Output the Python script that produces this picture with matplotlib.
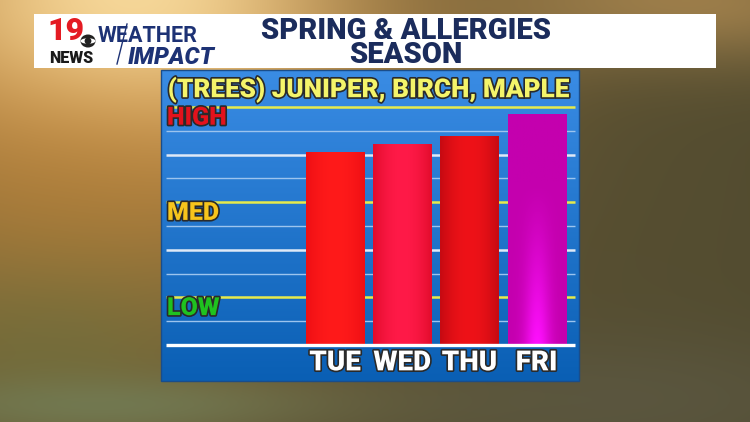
import numpy as np
import matplotlib
matplotlib.use("Agg")
import matplotlib.pyplot as plt
import matplotlib.patheffects as pe
from matplotlib.patches import Rectangle, Circle, Ellipse
from matplotlib.colors import to_rgb

# data
days = ["TUE", "WED", "THU", "FRI"]
pollen = [8.1, 8.45, 8.8, 9.7]
level_names = ["LOW", "MED", "HIGH"]
level_pos = [1.5, 5.5, 9.5]
chart_title = "(TREES) JUNIPER, BIRCH, MAPLE"
header = "SPRING & ALLERGIES\nSEASON"

W, H = 750, 422
fig = plt.figure(figsize=(7.5, 4.22), dpi=100)

# ---- background photo imitation (blurred sunset trees)
bg = fig.add_axes([0, 0, 1, 1])
bg.set_xlim(0, W)
bg.set_ylim(H, 0)
bg.axis("off")

yy, xx = np.mgrid[0:H, 0:W].astype(float)
img = np.zeros((H, W, 3))
img[:] = np.array([80, 74, 46]) / 255


def blob(cx, cy, sx, sy, col, amt):
    g = np.exp(-(((xx - cx) / sx) ** 2 + ((yy - cy) / sy) ** 2) / 2) * amt
    c = np.array(col) / 255
    for k in range(3):
        img[..., k] = img[..., k] * (1 - g) + c[k] * g


blob(110, 40, 240, 200, (215, 150, 70), 0.95)
blob(130, 0, 130, 80, (255, 230, 170), 0.85)
blob(60, 230, 120, 100, (175, 125, 55), 0.6)
blob(50, 350, 120, 70, (110, 110, 60), 0.7)
blob(680, 5, 140, 45, (200, 155, 90), 0.75)
blob(660, 230, 110, 150, (85, 78, 50), 0.6)
blob(620, 400, 200, 50, (95, 92, 72), 0.6)
blob(110, 405, 160, 22, (115, 128, 90), 0.7)
bg.imshow(np.clip(img, 0, 1), extent=[0, W, H, 0], aspect="auto", zorder=0)

# ---- white header banner
bg.add_patch(Rectangle((34, 14), 682, 54, facecolor="white", edgecolor="none", zorder=2))
bg.text(406, 43, header, ha="center", va="center", fontsize=21, fontweight="black",
        family="Roboto", color="#1b2c5c", linespacing=0.85, zorder=3)

# logo
bg.text(47, 40, "19", fontsize=23, fontweight="black", family="Roboto", color="#e41b23",
        ha="left", va="baseline", zorder=3)
bg.add_patch(Ellipse((88, 41), 15, 13, facecolor="#222222", zorder=3))
bg.add_patch(Ellipse((88, 41), 15, 5.5, facecolor="white", zorder=3))
bg.add_patch(Circle((88, 41), 3.4, facecolor="#222222", zorder=4))
bg.text(49, 63, "NEWS", fontsize=11.5, fontweight="black", family="Roboto", color="#1a1a1a",
        ha="left", va="baseline", zorder=3)
bg.text(98, 42, "WEATHER", fontsize=15.5, fontweight="bold", family="Roboto", color="#1d3275",
        ha="left", va="baseline", zorder=3)
bg.text(128, 64, "IMPACT", fontsize=17, fontweight="black", style="italic", family="Roboto",
        color="#1d3275", ha="left", va="baseline", zorder=3)
bg.plot([127, 117], [24, 64], color="#1d3275", lw=1, zorder=3)

# ---- blue panel
px0, px1, py0, py1 = 161, 579, 70, 381
top_c = np.array(to_rgb("#3a8ce4"))
bot_c = np.array(to_rgb("#0a5fb4"))
t = np.linspace(0, 1, 200)[:, None, None]
panel = top_c * (1 - t) + bot_c * t
panel = np.repeat(panel, 2, axis=1)
bg.imshow(panel, extent=[px0, px1, py1, py0], aspect="auto", zorder=2)
bg.add_patch(Rectangle((px0, py0), px1 - px0, py1 - py0, facecolor="none",
                       edgecolor="#1a4d8a", lw=1, zorder=3))

# ---- chart axes over the panel
unit = 23.8
base_px = 345
ax = fig.add_axes([px0 / W, 1 - py1 / H, (px1 - px0) / W, (py1 - py0) / H])
ax.patch.set_alpha(0)
ax.set_ylim(-(py1 - base_px) / unit, (base_px - py0) / unit)
x = np.arange(len(days))
step = 67.2
ax.set_xlim((px0 - 335) / step, (px1 - 335) / step)
ax.axis("off")

gx0, gx1 = (166 - 335) / step, (575 - 335) / step
for lv in range(1, 11):
    if lv in (2, 6, 10):
        ax.hlines(lv, gx0, gx1, color="#e6ea4c", lw=1.8, zorder=1)
    elif lv in (4, 8):
        ax.hlines(lv, gx0, gx1, color="#dfe9f7", lw=1.8, zorder=1)
    else:
        ax.hlines(lv, gx0, gx1, color="#9cc4ee", lw=1.0, zorder=1)
ax.hlines(0, gx0, gx1, color="white", lw=2.4, zorder=4)

# bars with gradient fills
bar_w = 0.865
bars = ax.bar(x, pollen, width=bar_w, color="#ff1414", zorder=2)
grads = [
    ("#ee0f14", "#ff1a1a"),
    ("#e20c2c", "#ff1a48"),
    ("#c60a12", "#ee1218"),
]
for i, b in enumerate(bars):
    h = b.get_height()
    xs = np.linspace(-1, 1, 60)
    if i < 3:
        edge, mid = np.array(to_rgb(grads[i][0])), np.array(to_rgb(grads[i][1]))
        wgt = (1 - xs ** 2)[None, :, None]
        arr = edge * (1 - wgt) + mid * wgt
        arr = np.repeat(arr, 2, axis=0)
    else:
        ys = np.linspace(0, 1, 120)[:, None]
        top = np.array(to_rgb("#c400ae"))
        glow = np.array(to_rgb("#ff10ff"))
        g = np.exp(-(xs[None, :] / 0.45) ** 2) * np.clip((ys - 0.3) / 0.7, 0, 1) ** 1.2
        arr = top * (1 - g[..., None]) + glow * g[..., None]
    im = ax.imshow(arr, extent=[b.get_x(), b.get_x() + bar_w, 0, h], aspect="auto",
                   zorder=3, origin="upper")
    im.set_clip_path(b)

outline = [pe.withStroke(linewidth=2.4, foreground="#2a2a2a")]
ax.text(-2.49, 10.72, chart_title, ha="left", va="center", fontsize=18.8, fontweight="black",
        family="Roboto", color="#f4f46a", path_effects=outline, zorder=5)

lvl_colors = ["#1fc21f", "#f7c51c", "#e3121c"]
for name, pos, c in zip(level_names, level_pos, lvl_colors):
    ax.text(-2.5, pos + 0.05, name, ha="left", va="center", fontsize=18, fontweight="black",
            family="Roboto", color=c, path_effects=outline, zorder=5)

for xi, d in zip(x, days):
    ax.text(xi, -0.75, d, ha="center", va="center", fontsize=20, fontweight="black",
            family="Roboto", color="white", path_effects=outline, zorder=5)

fig.savefig("out.png", dpi=100)
